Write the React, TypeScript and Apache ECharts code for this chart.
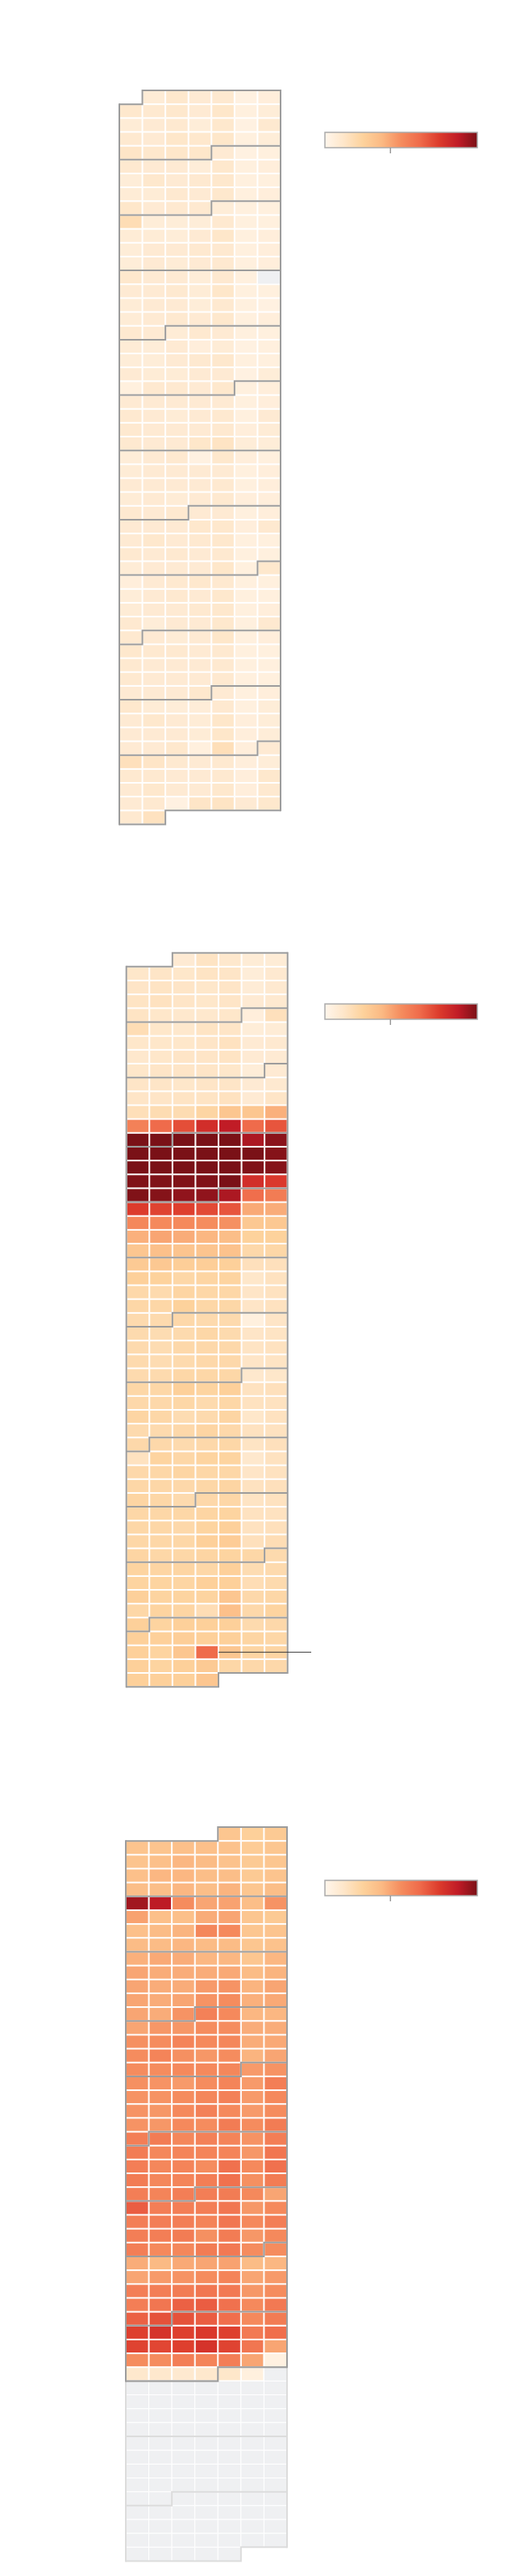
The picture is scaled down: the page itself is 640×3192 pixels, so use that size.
import React, { useEffect, useRef } from 'react';
import * as echarts from 'echarts';

// colour scale (value 0..100)
const scaleColors = ['#fff6ec', '#fee6c9', '#fdd29c', '#fbb983', '#f58c5e', '#ef6a4a', '#dc3b2c', '#c01b26', '#7a1117'];
const valueMin = 0;
const valueMax = 100;
const legendTickValue = 43;
const calloutDate = '2020-12-17';
const greyStart = '2021-10-01';

const _ = null;
// weekly rows (Monday .. Sunday), row 0 = week containing 1 January
const values2019: (number | null)[][] = [
  [_, 8, 11, 9, 10, 4, 6],
  [11, 10, 11, 9, 12, 5, 7],
  [8, 9, 10, 7, 11, 4, 10],
  [10, 9, 12, 11, 12, 5, 7],
  [13, 11, 12, 12, 9, 4, 5],
  [10, 9, 9, 7, 11, 5, 6],
  [7, 11, 9, 10, 11, 5, 5],
  [8, 8, 10, 9, 11, 5, 6],
  [12, 9, 10, 10, 7, 5, 5],
  [18, 7, 7, 7, 10, 5, 5],
  [8, 8, 7, 9, 12, 5, 6],
  [7, 9, 9, 10, 10, 5, 6],
  [7, 9, 8, 9, 10, 5, 6],
  [11, 9, 9, 7, 10, 5, _],
  [9, 9, 10, 8, 12, 5, 5],
  [8, 9, 9, 7, 10, 5, 4],
  [8, 9, 10, 9, 11, 5, 6],
  [10, 9, 8, 10, 9, 5, 5],
  [8, 7, 9, 6, 8, 4, 5],
  [7, 7, 9, 10, 11, 5, 5],
  [9, 8, 8, 9, 9, 4, 7],
  [5, 10, 10, 9, 11, 5, 6],
  [9, 9, 9, 9, 9, 5, 6],
  [10, 9, 8, 9, 10, 5, 9],
  [10, 9, 9, 9, 10, 6, 8],
  [10, 9, 9, 12, 14, 7, 7],
  [7, 9, 10, 4, 11, 6, 5],
  [8, 9, 9, 9, 9, 5, 6],
  [9, 9, 9, 9, 10, 5, 6],
  [8, 9, 8, 9, 10, 6, 6],
  [10, 9, 10, 9, 9, 5, 6],
  [9, 9, 9, 11, 11, 6, 10],
  [9, 11, 9, 10, 11, 5, 5],
  [10, 9, 10, 9, 10, 5, 5],
  [8, 9, 9, 9, 12, 5, 11],
  [6, 9, 10, 11, 10, 5, 5],
  [7, 9, 10, 9, 11, 5, 5],
  [8, 9, 9, 10, 11, 5, 6],
  [10, 7, 9, 9, 11, 5, 10],
  [10, 9, 8, 9, 12, 5, 6],
  [11, 10, 10, 9, 10, 5, 5],
  [10, 9, 9, 9, 10, 5, 5],
  [10, 9, 9, 9, 10, 5, 5],
  [9, 9, 9, 11, 9, 5, 6],
  [11, 8, 7, 7, 10, 5, 7],
  [9, 11, 9, 8, 12, 6, 7],
  [9, 9, 9, 8, 12, 6, 7],
  [9, 9, 11, 5, 17, 6, 9],
  [16, 13, 10, 9, 10, 6, 7],
  [10, 10, 9, 9, 10, 6, 11],
  [9, 11, 9, 9, 11, 6, 10],
  [9, 10, 4, 13, 14, 9, 11],
  [10, 15],
];

const values2020: (number | null)[][] = [
  [_, _, 9, 14, 11, 8, 8],
  [12, 13, 12, 14, 13, 7, 10],
  [13, 14, 13, 12, 13, 8, 10],
  [14, 15, 13, 12, 13, 9, 10],
  [14, 12, 11, 11, 12, 6, 16],
  [18, 12, 11, 14, 13, 7, 8],
  [12, 12, 12, 13, 15, 9, 10],
  [11, 12, 13, 13, 14, 9, 9],
  [12, 13, 13, 13, 12, 7, 9],
  [13, 13, 12, 13, 13, 9, 10],
  [13, 13, 14, 14, 15, 9, 13],
  [17, 19, 19, 23, 31, 31, 40],
  [54, 62, 70, 80, 87, 62, 68],
  [100, 100, 100, 100, 100, 91, 97],
  [100, 100, 100, 100, 100, 100, 98],
  [100, 100, 100, 100, 100, 99, 98],
  [99, 99, 99, 99, 100, 80, 76],
  [99, 98, 96, 96, 91, 61, 56],
  [75, 73, 74, 71, 68, 42, 41],
  [52, 51, 51, 50, 49, 30, 30],
  [40, 43, 41, 38, 35, 25, 25],
  [31, 34, 32, 32, 33, 21, 22],
  [29, 30, 27, 27, 26, 16, 16],
  [26, 25, 22, 23, 24, 12, 15],
  [21, 20, 23, 22, 22, 13, 15],
  [22, 22, 25, 22, 22, 13, 15],
  [20, 20, 21, 20, 20, 5, 13],
  [20, 19, 20, 22, 20, 13, 14],
  [20, 19, 21, 21, 21, 14, 15],
  [20, 19, 20, 21, 21, 13, 14],
  [20, 20, 22, 22, 22, 11, 12],
  [22, 22, 26, 24, 26, 15, 16],
  [21, 21, 22, 20, 22, 15, 15],
  [23, 22, 19, 20, 23, 12, 15],
  [20, 20, 21, 23, 21, 15, 15],
  [21, 21, 20, 21, 22, 14, 16],
  [15, 24, 22, 24, 24, 11, 15],
  [21, 22, 23, 22, 22, 13, 15],
  [22, 22, 21, 22, 23, 15, 16],
  [23, 22, 20, 21, 22, 14, 15],
  [22, 22, 22, 23, 24, 15, 15],
  [22, 22, 21, 24, 26, 15, 16],
  [22, 22, 22, 26, 28, 16, 18],
  [23, 22, 22, 23, 24, 22, 20],
  [24, 23, 23, 22, 26, 19, 20],
  [24, 24, 23, 26, 26, 18, 20],
  [26, 24, 24, 24, 31, 21, 22],
  [22, 24, 23, 18, 34, 21, 24],
  [26, 24, 26, 26, 26, 20, 21],
  [26, 26, 27, 26, 26, 23, 22],
  [26, 24, 31, 62, 31, 23, 23],
  [26, 24, 26, 29, 22, 21, 21],
  [26, 26, 26, 31],
];

const values2021: (number | null)[][] = [
  [_, _, _, _, 31, 26, 29],
  [32, 32, 34, 34, 33, 28, 31],
  [32, 34, 38, 36, 33, 29, 31],
  [34, 38, 38, 35, 35, 29, 32],
  [35, 35, 38, 35, 39, 31, 35],
  [93, 88, 50, 43, 44, 35, 48],
  [44, 34, 34, 41, 43, 31, 29],
  [34, 36, 39, 52, 51, 31, 32],
  [36, 36, 38, 36, 36, 31, 33],
  [40, 42, 41, 38, 38, 31, 38],
  [43, 41, 41, 41, 42, 36, 39],
  [43, 41, 41, 46, 48, 39, 43],
  [43, 41, 43, 48, 50, 40, 42],
  [43, 41, 48, 54, 51, 38, 38],
  [43, 47, 47, 50, 50, 41, 41],
  [49, 50, 53, 51, 52, 41, 42],
  [50, 53, 49, 47, 50, 39, 43],
  [50, 50, 51, 51, 52, 46, 48],
  [49, 48, 46, 50, 53, 46, 55],
  [48, 48, 50, 52, 54, 46, 51],
  [48, 47, 51, 54, 51, 46, 50],
  [48, 47, 51, 50, 56, 50, 56],
  [55, 56, 52, 54, 53, 48, 55],
  [56, 52, 53, 53, 53, 47, 58],
  [55, 52, 53, 50, 60, 51, 60],
  [56, 52, 53, 55, 60, 49, 56],
  [55, 53, 55, 55, 56, 51, 43],
  [66, 55, 55, 55, 58, 47, 51],
  [55, 55, 55, 53, 58, 51, 55],
  [55, 55, 56, 49, 56, 47, 51],
  [55, 51, 52, 56, 57, 50, 50],
  [41, 37, 42, 43, 44, 36, 38],
  [43, 46, 48, 50, 53, 43, 46],
  [55, 55, 56, 58, 57, 47, 50],
  [55, 58, 65, 66, 60, 51, 57],
  [65, 69, 69, 66, 61, 51, 56],
  [74, 78, 74, 76, 74, 57, 61],
  [73, 72, 74, 78, 73, 58, 43],
  [50, 50, 55, 53, 55, 43, 4],
  [11, 11, 10, 11, 12, 5],
];

const DAY = 86400000;
function pad(n: number) { return n < 10 ? '0' + n : '' + n; }
function fmt(t: number) {
  const d = new Date(t);
  return d.getUTCFullYear() + '-' + pad(d.getUTCMonth() + 1) + '-' + pad(d.getUTCDate());
}
function buildDays(year: number, rows: (number | null)[][], from: string, to: string) {
  const jan1 = Date.UTC(year, 0, 1);
  const dow = (new Date(jan1).getUTCDay() + 6) % 7;
  const start = jan1 - dow * DAY;
  const out: [string, number][] = [];
  rows.forEach((row, r) => row.forEach((v, c) => {
    if (v == null) return;
    const s = fmt(start + (r * 7 + c) * DAY);
    if (s < from || s > to) return;
    out.push([s, v]);
  }));
  return out;
}

const cellW = 28.57;
const cellH = 17.16;
const legendX = 403;
const legendW = 189;
const legendH = 19;
const legendTops = [164, 1244, 2330];
const calloutEndX = 386;

export default function App() {
  const ref = useRef<HTMLDivElement>(null);
  useEffect(() => {
    document.body.style.margin = '0';
    const chart = echarts.init(ref.current!, undefined, { renderer: 'svg' });
    const cal = (left: number, top: number, range: any, grey: boolean) => ({
      orient: 'vertical',
      left,
      top,
      range,
      cellSize: [cellW, cellH],
      dayLabel: { show: false, firstDay: 1 },
      monthLabel: { show: false },
      yearLabel: { show: false },
      itemStyle: { color: '#eff0f2', borderColor: '#ffffff', borderWidth: 1 },
      splitLine: { show: true, lineStyle: { color: grey ? '#dcdcdc' : '#9c9c9c', width: 2 } },
    });
    // the grey (no data yet) part of 2021 is listed before the main 2021 calendar so that
    // the darker month outline is drawn on top where they meet
    const calendars = [
      cal(148, 112, '2019', false),
      cal(156.7, 1180.7, '2020', false),
      cal(156, 2264 + 39 * cellH, [greyStart, '2021-12-31'], true),
      cal(156, 2264, ['2021-01-01', '2021-09-30'], false),
    ];
    const heat = (ci: number, data: [string, number][]) => ({
      type: 'heatmap',
      coordinateSystem: 'calendar',
      calendarIndex: ci,
      data,
      itemStyle: { borderColor: '#ffffff', borderWidth: 1 },
      emphasis: { disabled: true },
    });
    chart.setOption({
      animation: false,
      calendar: calendars,
      visualMap: {
        type: 'continuous',
        show: false,
        min: valueMin,
        max: valueMax,
        seriesIndex: [0, 1, 2, 3],
        inRange: { color: scaleColors },
      },
      series: [
        heat(0, buildDays(2019, values2019, '2019-01-01', '2019-12-31')),
        heat(1, buildDays(2020, values2020, '2020-01-01', '2020-12-31')),
        heat(3, buildDays(2021, values2021, '2021-01-01', '2021-09-30')),
        heat(2, buildDays(2021, values2021, greyStart, '2021-12-31')),
      ],
    });
    const stops = scaleColors.map((c, i) => ({ offset: i / (scaleColors.length - 1), color: c }));
    const graphics: any[] = [];
    legendTops.forEach((t, i) => {
      graphics.push({
        type: 'rect',
        id: 'legend' + i,
        shape: { x: legendX, y: t, width: legendW, height: legendH },
        style: {
          fill: new echarts.graphic.LinearGradient(0, 0, 1, 0, stops),
          stroke: '#aaaaaa',
          lineWidth: 1.5,
        },
      });
      const tx = legendX + legendW * (legendTickValue - valueMin) / (valueMax - valueMin);
      graphics.push({
        type: 'line',
        id: 'tick' + i,
        shape: { x1: tx, y1: t + legendH, x2: tx, y2: t + legendH + 7 },
        style: { stroke: '#999999', lineWidth: 1.5 },
      });
    });
    const p = chart.convertToPixel({ calendarIndex: 1 } as any, calloutDate) as number[];
    if (p) {
      graphics.push({
        type: 'line',
        id: 'callout',
        shape: { x1: p[0] + cellW / 2, y1: p[1], x2: calloutEndX, y2: p[1] },
        style: { stroke: '#333333', lineWidth: 1 },
        z: 10,
      });
    }
    chart.setOption({ graphic: graphics });
    return () => chart.dispose();
  }, []);
  return <div ref={ref} style={{ width: 640, height: 3192 }} />;
}
